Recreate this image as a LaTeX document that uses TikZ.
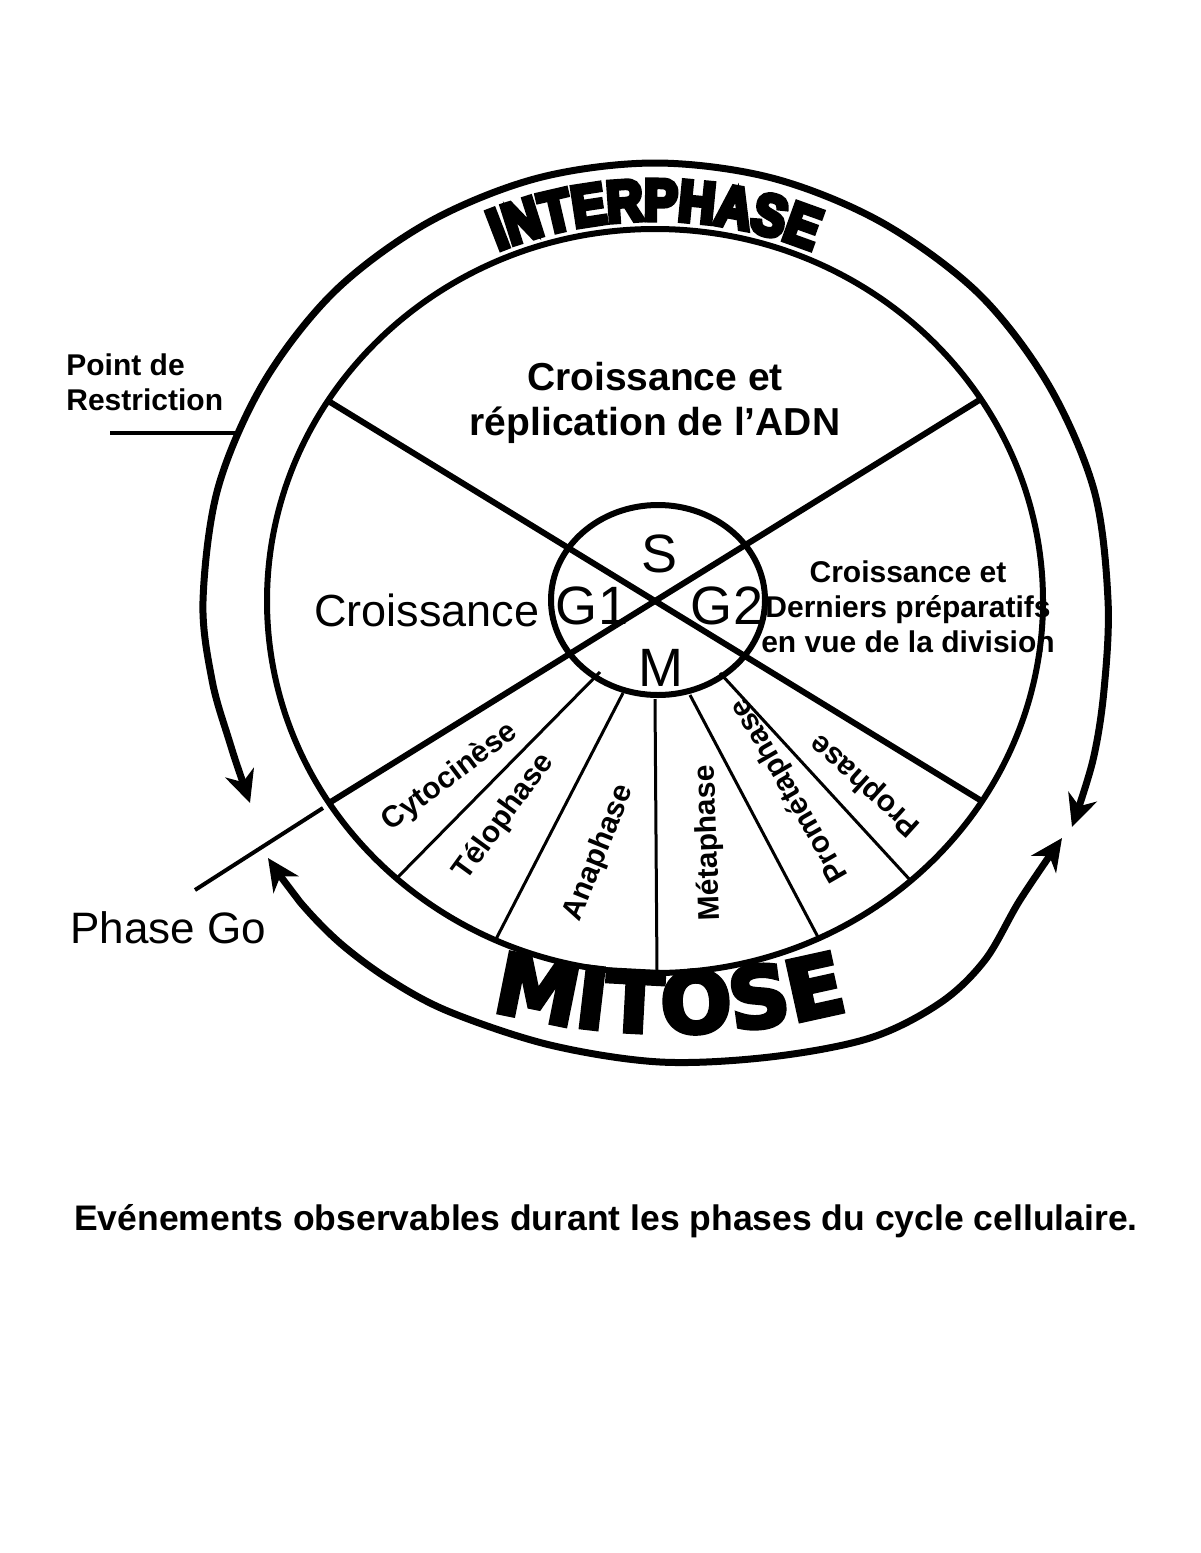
\documentclass[tikz,border=0pt]{standalone}
\usepackage{fontspec}
\setmainfont{Liberation Sans}
\newfontfamily\heavyfont{Liberation Sans}[BoldFeatures={FakeBold=9,FakeStretch=0.86}]
\newfontfamily\mitosefont{DejaVu Sans}[BoldFeatures={FakeBold=5}]
\usetikzlibrary{arrows.meta,decorations.text,calc}
\begin{document}
\begin{tikzpicture}[x=0.5pt,y=-0.5pt,
  ring/.style={line width=3pt},
  spoke/.style={line width=1.5pt},
  cyclearrow/.style={line width=3.5pt,
    {Stealth[length=16pt,width=15pt,inset=5pt]}-{Stealth[length=16pt,width=15pt,inset=5pt]}},
  pointer/.style={line width=2pt},
  phaselabel/.style={font=\bfseries\fontsize{15pt}{15pt}\selectfont, inner sep=0pt},
  letterlabel/.style={font=\fontsize{27pt}{27pt}\selectfont, inner sep=0pt, anchor=base},
  boldtext/.style={font=\bfseries\fontsize{15pt}{17.5pt}\selectfont, inner sep=0pt, anchor=base},
]
\useasboundingbox (0,0) rectangle (1200,1553);
\coordinate (C) at (655,601);

% outer circle and inner circle
\draw[ring] (C) ellipse [x radius=388, y radius=372];
\draw[ring] (658,600) ellipse [x radius=107, y radius=95];

% X lines
\coordinate (x1a) at (330,402); \coordinate (x1b) at (980,800);
\coordinate (x2a) at (981,399); \coordinate (x2b) at (329,803);
\draw[ring] (x1a) -- (x1b);
\draw[ring] (x2a) -- (x2b);

% mitosis spokes
\coordinate (i1) at (600,672); \coordinate (o1) at (398,877);
\coordinate (i2) at (623,693); \coordinate (o2) at (495,941);
\coordinate (i3) at (655,699); \coordinate (o3) at (657,972);
\coordinate (i4) at (690,695); \coordinate (o4) at (819,939);
\coordinate (i5) at (720,673); \coordinate (o5) at (911,881);
\foreach \k in {1,...,5}{\draw[spoke] (i\k) -- (o\k);}

% interphase arrow
\draw[cyclearrow] plot[smooth, tension=0.55] coordinates {(250,803) (229,740) (212,680) (203,601) (218,488) (264,382) (335,291) (429,222) (538,178) (655,163) (772,178) (881,222) (978,293) (1048,384) (1094,490) (1108,600) (1104,690) (1093,760) (1072,827)};

% mitose arrow
\draw[cyclearrow] plot[smooth, tension=0.55] coordinates {(268,858) (300,902) (340,943) (390,980) (450,1012) (550,1045) (660,1062) (770,1057) (870,1038) (940,1003) (985,960) (1020,900) (1062,838)};

% INTERPHASE along arc
\path[decorate, decoration={text along path, text align=center,
  text={|\heavyfont\bfseries\fontsize{29pt}{29pt}\selectfont|INTERPHASE}}]
  ($(C)+(230:400 and 381)$) arc[start angle=230, end angle=310, x radius=400, y radius=381];

% MITOSE along arc
\coordinate (MC) at (670,333);
\path[decorate, decoration={text along path, text align=center,
  text={|\mitosefont\bfseries\fontsize{42pt}{42pt}\selectfont|MITOSE}}]
  ($(MC)+(120:700)$) arc[start angle=120, end angle=60, radius=700];

% pointers
\coordinate (rp-a) at (110,433); \coordinate (rp-b) at (236,433);
\draw[pointer] (rp-a) -- (rp-b);
\coordinate (go-a) at (323,808); \coordinate (go-b) at (195,890);
\draw[pointer] (go-a) -- (go-b);

% texts
\node[font=\bfseries\fontsize{19.5pt}{22.5pt}\selectfont, align=center, anchor=base, inner sep=0pt] (sphase) at (655,435) {Croissance et\\réplication de l’ADN};
\node[font=\fontsize{22.5pt}{22.5pt}\selectfont, anchor=base, inner sep=0pt] (g1phase) at (427,626) {Croissance};
\node[boldtext, align=center] (g2phase) at (908,652) {Croissance et\\Derniers préparatifs\\en vue de la division};
\node[boldtext, align=left, anchor=base west] (restr) at (66,410) {Point de\\Restriction};
\node[font=\fontsize{22pt}{22pt}\selectfont, anchor=base west, inner sep=0pt] (go) at (70,943) {Phase Go};

\node[letterlabel] (S) at (660,572) {S};
\node[letterlabel] (G1) at (592,624) {G1};
\node[letterlabel] (G2) at (727,624) {G2};
\node[letterlabel] (M) at (661,686) {M};

% mitosis phase labels
\node[phaselabel, rotate=37] (cyto) at (450,777) {Cytocinèse};
\node[phaselabel, rotate=54] (telo) at (504,817) {Télophase};
\node[phaselabel, rotate=68] (ana) at (599,853) {Anaphase};
\node[phaselabel, rotate=92] (meta) at (709,843) {Métaphase};
\node[phaselabel, rotate=120] (prometa) at (790,790) {Prométaphase};
\node[phaselabel, rotate=138] (pro) at (866,785) {Prophase};

% caption
\node[font=\bfseries\fontsize{17.75pt}{17.75pt}\selectfont, anchor=base, inner sep=0pt] (caption) at (606,1230) {Evénements observables durant les phases du cycle cellulaire.};
\end{tikzpicture}
\end{document}
